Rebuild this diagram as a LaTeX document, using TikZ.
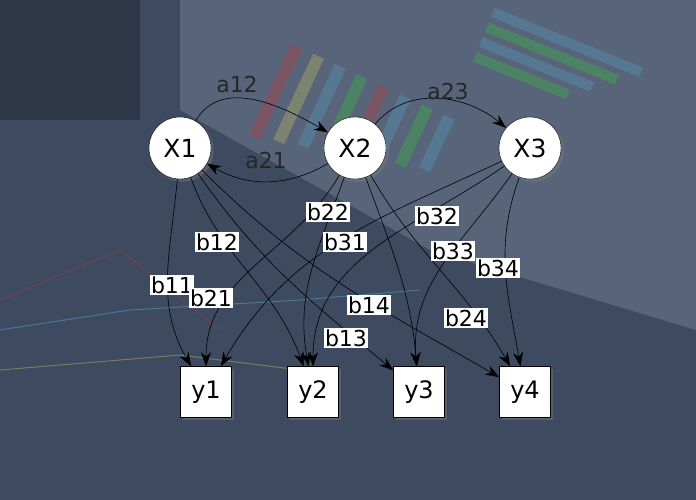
\documentclass[tikz,border=0pt]{standalone}
\usepackage{fontspec}
\setmainfont{DejaVu Sans}
\usetikzlibrary{arrows.meta,shadows,shapes.geometric}
\definecolor{bgA}{RGB}{62,74,96}
\definecolor{bgB}{RGB}{88,100,122}
\begin{document}
\begin{tikzpicture}[x=1pt,y=-1pt,
  lat/.style={circle,draw=black,fill=white,minimum size=62pt,inner sep=0pt,font=\fontsize{25}{25}\selectfont,drop shadow={opacity=0.4}},
  obs/.style={rectangle,draw=black,fill=white,minimum size=51pt,inner sep=0pt,font=\fontsize{24}{24}\selectfont,drop shadow={opacity=0.4}},
  lab/.style={fill=white,inner sep=1.5pt,font=\fontsize{22}{22}\selectfont},
  alab/.style={text=black!85,font=\fontsize{22}{22}\selectfont},
  edge/.style={-{Stealth[length=14pt,width=10pt]},black,line width=0.6pt}]
\useasboundingbox (0,0) rectangle (696,500);
\fill[bgA] (0,0) rectangle (696,500);
\fill[bgB] (180,0) -- (696,0) -- (696,330) -- (430,250) -- (180,110) -- cycle;
\fill[black,opacity=0.25] (0,0) rectangle (140,120);
\foreach \i/\c in {0/red,1/yellow,2/cyan,3/green,4/red,5/cyan,6/green,7/cyan}{
  \fill[\c!60!gray,opacity=0.3,rotate around={-25:(330,150)}] (250+\i*24,70) rectangle (262+\i*24,170-\i*6);}
\foreach \i/\c in {0/cyan,1/green,2/cyan,3/green}{
  \fill[\c!60!gray,opacity=0.3,rotate around={-22:(560,60)}] (480,36+\i*16) rectangle (640-\i*20,46+\i*16);}
\draw[cyan!60!gray,opacity=0.5,line width=1pt] (0,330) -- (130,310) -- (300,300) -- (420,290);
\draw[red!60!gray,opacity=0.4,line width=1pt] (0,300) -- (120,250) -- (220,330);
\draw[yellow!60!gray,opacity=0.4,line width=1pt] (0,370) -- (180,355) -- (300,370);
\node[lat] (x1) at (180,148) {X1};
\node[lat] (x2) at (355,148) {X2};
\node[lat] (x3) at (530,148) {X3};
\node[obs] (y1) at (206,392) {y1};
\node[obs] (y2) at (313,392) {y2};
\node[obs] (y3) at (419,392) {y3};
\node[obs] (y4) at (525,392) {y4};
\draw[edge] (x1) to[out=60,in=150] (x2);
\draw[edge] (x2) to[out=210,in=-30] (x1);
\draw[edge] (x2) to[out=50,in=140] (x3);
\draw[edge] (x1) to[out=-95,in=120] (y1);
\draw[edge] (x1) to[out=-70,in=110] (y2);
\draw[edge] (x1) to[out=-55,in=140] (y3);
\draw[edge] (x1) to[out=-45,in=150] (y4);
\draw[edge] (x2) to[out=-120,in=90] (y1);
\draw[edge] (x2) to[out=-110,in=100] (y2);
\draw[edge] (x2) to[out=-70,in=95] (y3);
\draw[edge] (x2) to[out=-60,in=120] (y4);
\draw[edge] (x3) to[out=-155,in=60] (y1);
\draw[edge] (x3) to[out=-145,in=90] (y2);
\draw[edge] (x3) to[out=-125,in=95] (y3);
\draw[edge] (x3) to[out=-110,in=100] (y4);
\node[alab] (a12) at (237,84) {a12};
\node[alab] (a21) at (266,160) {a21};
\node[alab] (a23) at (448,91) {a23};
\node[lab] (b11) at (172,285) {b11};
\node[lab] (b21) at (211,298) {b21};
\node[lab] (b12) at (217,242) {b12};
\node[lab] (b22) at (328,212) {b22};
\node[lab] (b31) at (345,242) {b31};
\node[lab] (b32) at (437,216) {b32};
\node[lab] (b33) at (453,251) {b33};
\node[lab] (b34) at (498,268) {b34};
\node[lab] (b14) at (369,305) {b14};
\node[lab] (b13) at (346,338) {b13};
\node[lab] (b24) at (466,318) {b24};
\end{tikzpicture}
\end{document}
